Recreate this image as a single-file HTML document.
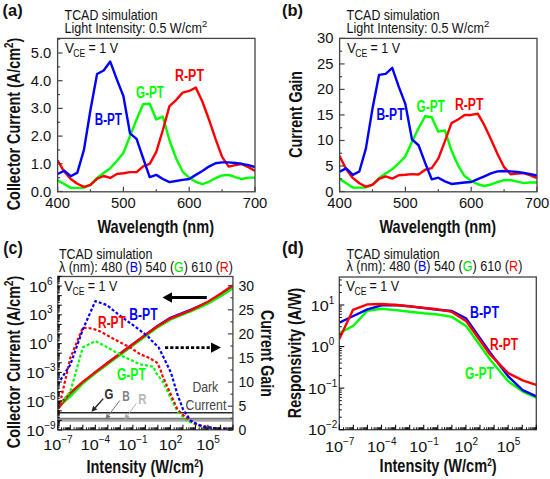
<!DOCTYPE html>
<html><head><meta charset="utf-8"><style>
html,body{margin:0;padding:0;background:#fff;}
svg{display:block;}
text{font-family:"Liberation Sans", sans-serif;}
</style></head><body>
<svg width="550" height="479" viewBox="0 0 550 479">
<rect width="550" height="479" fill="#fff"/>
<clipPath id="clip0"><rect x="57.6" y="38.4" width="197.4" height="153.4"/></clipPath>
<g clip-path="url(#clip0)">
<polyline points="57.60,180.42 64.18,184.02 70.76,187.90 77.34,187.90 83.92,187.62 90.50,184.85 97.08,177.93 103.66,172.94 110.24,168.23 116.82,161.03 123.40,153.00 129.98,136.10 136.56,119.48 143.14,104.25 149.72,103.69 156.30,119.48 162.88,116.71 169.46,140.25 176.04,158.26 182.62,171.56 189.20,177.65 195.78,181.81 202.36,184.02 208.94,181.81 215.52,178.20 222.10,175.43 228.68,174.88 235.26,177.10 241.84,179.03 248.42,177.65 255.00,177.65" fill="none" stroke="#00ff00" stroke-width="2.4" stroke-linejoin="round"/>
<polyline points="57.60,160.48 64.18,171.56 70.76,179.03 77.34,183.74 83.92,186.79 90.50,184.85 97.08,178.76 103.66,175.99 110.24,177.93 116.82,174.05 123.40,173.22 129.98,172.11 136.56,172.11 143.14,166.29 149.72,163.80 156.30,151.89 162.88,130.01 169.46,106.18 176.04,100.09 182.62,92.61 189.20,90.95 195.78,87.62 202.36,101.48 208.94,119.48 215.52,138.87 222.10,156.88 228.68,166.57 235.26,165.19 241.84,164.08 248.42,167.12 255.00,171.00" fill="none" stroke="#ff0000" stroke-width="2.4" stroke-linejoin="round"/>
<polyline points="57.60,174.05 64.18,170.72 70.76,176.26 77.34,172.66 83.92,149.95 90.50,109.78 97.08,74.05 103.66,70.45 110.24,61.59 116.82,79.32 123.40,95.94 129.98,133.33 136.56,138.87 143.14,158.26 149.72,177.10 156.30,174.88 162.88,179.03 169.46,182.08 176.04,180.97 182.62,179.87 189.20,179.03 195.78,174.88 202.36,171.00 208.94,166.57 215.52,163.25 222.10,162.41 228.68,162.41 235.26,162.97 241.84,163.80 248.42,165.19 255.00,167.12" fill="none" stroke="#0000ff" stroke-width="2.4" stroke-linejoin="round"/>
</g>
<rect x="57.6" y="38.4" width="197.4" height="153.4" fill="none" stroke="#444" stroke-width="1.3"/>
<line x1="57.60" y1="191.80" x2="57.60" y2="186.80" stroke="#444" stroke-width="1.2"/>
<line x1="90.50" y1="191.80" x2="90.50" y2="189.30" stroke="#444" stroke-width="1.2"/>
<line x1="123.40" y1="191.80" x2="123.40" y2="186.80" stroke="#444" stroke-width="1.2"/>
<line x1="156.30" y1="191.80" x2="156.30" y2="189.30" stroke="#444" stroke-width="1.2"/>
<line x1="189.20" y1="191.80" x2="189.20" y2="186.80" stroke="#444" stroke-width="1.2"/>
<line x1="222.10" y1="191.80" x2="222.10" y2="189.30" stroke="#444" stroke-width="1.2"/>
<line x1="255.00" y1="191.80" x2="255.00" y2="186.80" stroke="#444" stroke-width="1.2"/>
<text x="57.60" y="208.40" font-size="15" font-weight="normal" fill="#111" text-anchor="middle" textLength="24.60" lengthAdjust="spacingAndGlyphs">400</text>
<text x="123.40" y="208.40" font-size="15" font-weight="normal" fill="#111" text-anchor="middle" textLength="24.60" lengthAdjust="spacingAndGlyphs">500</text>
<text x="189.20" y="208.40" font-size="15" font-weight="normal" fill="#111" text-anchor="middle" textLength="24.60" lengthAdjust="spacingAndGlyphs">600</text>
<text x="255.00" y="208.40" font-size="15" font-weight="normal" fill="#111" text-anchor="middle" textLength="24.60" lengthAdjust="spacingAndGlyphs">700</text>
<line x1="57.60" y1="191.50" x2="62.60" y2="191.50" stroke="#444" stroke-width="1.2"/>
<line x1="57.60" y1="177.65" x2="60.10" y2="177.65" stroke="#444" stroke-width="1.2"/>
<line x1="57.60" y1="163.80" x2="62.60" y2="163.80" stroke="#444" stroke-width="1.2"/>
<line x1="57.60" y1="149.95" x2="60.10" y2="149.95" stroke="#444" stroke-width="1.2"/>
<line x1="57.60" y1="136.10" x2="62.60" y2="136.10" stroke="#444" stroke-width="1.2"/>
<line x1="57.60" y1="122.25" x2="60.10" y2="122.25" stroke="#444" stroke-width="1.2"/>
<line x1="57.60" y1="108.40" x2="62.60" y2="108.40" stroke="#444" stroke-width="1.2"/>
<line x1="57.60" y1="94.55" x2="60.10" y2="94.55" stroke="#444" stroke-width="1.2"/>
<line x1="57.60" y1="80.70" x2="62.60" y2="80.70" stroke="#444" stroke-width="1.2"/>
<line x1="57.60" y1="66.85" x2="60.10" y2="66.85" stroke="#444" stroke-width="1.2"/>
<line x1="57.60" y1="53.00" x2="62.60" y2="53.00" stroke="#444" stroke-width="1.2"/>
<line x1="57.60" y1="39.15" x2="60.10" y2="39.15" stroke="#444" stroke-width="1.2"/>
<text x="51.30" y="196.50" font-size="15" font-weight="normal" fill="#111" text-anchor="end" textLength="20.50" lengthAdjust="spacingAndGlyphs">0.0</text>
<text x="51.30" y="168.80" font-size="15" font-weight="normal" fill="#111" text-anchor="end" textLength="20.50" lengthAdjust="spacingAndGlyphs">1.0</text>
<text x="51.30" y="141.10" font-size="15" font-weight="normal" fill="#111" text-anchor="end" textLength="20.50" lengthAdjust="spacingAndGlyphs">2.0</text>
<text x="51.30" y="113.40" font-size="15" font-weight="normal" fill="#111" text-anchor="end" textLength="20.50" lengthAdjust="spacingAndGlyphs">3.0</text>
<text x="51.30" y="85.70" font-size="15" font-weight="normal" fill="#111" text-anchor="end" textLength="20.50" lengthAdjust="spacingAndGlyphs">4.0</text>
<text x="51.30" y="58.00" font-size="15" font-weight="normal" fill="#111" text-anchor="end" textLength="20.50" lengthAdjust="spacingAndGlyphs">5.0</text>
<text x="64.60" y="19.60" font-size="14.5" font-weight="normal" fill="#111" text-anchor="start" textLength="93.00" lengthAdjust="spacingAndGlyphs">TCAD simulation</text>
<text x="64.60" y="33.00" font-size="14.5" font-weight="normal" fill="#111" text-anchor="start" textLength="137.30" lengthAdjust="spacingAndGlyphs">Light Intensity: 0.5 W/cm</text>
<text x="202.00" y="27.00" font-size="9.5" font-weight="normal" fill="#111" text-anchor="start">2</text>
<text x="64.90" y="53.30" font-size="14.5" font-weight="normal" fill="#111" text-anchor="start" textLength="9.00" lengthAdjust="spacingAndGlyphs">V</text>
<text x="73.30" y="57.30" font-size="10.5" font-weight="normal" fill="#111" text-anchor="start" textLength="12.00" lengthAdjust="spacingAndGlyphs">CE</text>
<text x="88.50" y="53.30" font-size="14.5" font-weight="normal" fill="#111" text-anchor="start" textLength="29.50" lengthAdjust="spacingAndGlyphs">= 1 V</text>
<text x="97.40" y="233.20" font-size="18.5" font-weight="bold" fill="#111" text-anchor="start" textLength="116.60" lengthAdjust="spacingAndGlyphs">Wavelength (nm)</text>
<text x="20.5" y="210.3" font-size="18.5" font-weight="bold" fill="#111" transform="rotate(-90 20.5 210.3)" textLength="172.5" lengthAdjust="spacingAndGlyphs">Collector Current (A/cm<tspan dy="-7" font-size="12.5">2</tspan><tspan dy="7">)</tspan></text>
<text x="94.70" y="124.90" font-size="16" font-weight="bold" fill="#0000ff" text-anchor="start" textLength="27.30" lengthAdjust="spacingAndGlyphs">B-PT</text>
<text x="136.10" y="97.60" font-size="16" font-weight="bold" fill="#00ff00" text-anchor="start" textLength="27.90" lengthAdjust="spacingAndGlyphs">G-PT</text>
<text x="175.00" y="81.40" font-size="16" font-weight="bold" fill="#ff0000" text-anchor="start" textLength="29.00" lengthAdjust="spacingAndGlyphs">R-PT</text>
<clipPath id="clip282"><rect x="339.6" y="38.4" width="197.39999999999998" height="153.4"/></clipPath>
<g clip-path="url(#clip282)">
<polyline points="339.60,178.84 346.18,183.17 352.76,187.58 359.34,187.67 365.92,187.47 372.50,184.75 379.08,178.02 385.66,173.46 392.24,169.35 398.82,163.09 405.40,156.32 411.98,141.87 418.56,128.22 425.14,116.28 431.72,117.20 438.30,131.67 444.88,130.48 451.46,150.42 458.04,165.31 464.62,176.06 471.20,180.95 477.78,184.24 484.36,185.99 490.94,184.47 497.52,182.01 504.10,180.21 510.68,179.99 517.26,181.68 523.84,183.12 530.42,182.33 537.00,182.46" fill="none" stroke="#00ff00" stroke-width="2.4" stroke-linejoin="round"/>
<polyline points="339.60,156.06 346.18,169.27 352.76,177.94 359.34,183.26 365.92,186.61 372.50,184.75 379.08,178.84 385.66,176.42 392.24,178.58 398.82,175.23 405.40,174.79 411.98,174.13 418.56,174.46 425.14,169.77 431.72,168.06 438.30,158.59 444.88,141.33 451.46,123.11 458.04,119.49 464.62,114.92 471.20,114.93 477.78,113.70 484.36,125.16 490.94,139.27 497.52,153.93 504.10,167.16 510.68,174.24 517.26,173.55 523.84,173.07 530.42,175.36 537.00,178.12" fill="none" stroke="#ff0000" stroke-width="2.4" stroke-linejoin="round"/>
<polyline points="339.60,171.57 346.18,168.35 352.76,174.93 359.34,171.49 365.92,148.35 372.50,108.53 379.08,74.84 385.66,73.82 392.24,67.84 398.82,86.89 405.40,104.17 411.98,139.39 418.56,145.26 425.14,162.84 431.72,179.31 438.30,177.69 444.88,181.33 451.46,183.95 458.04,183.21 464.62,182.49 471.20,182.01 477.78,179.05 484.36,176.39 490.94,173.42 497.52,171.33 504.10,171.06 510.68,171.37 517.26,172.04 523.84,172.89 530.42,174.07 537.00,175.59" fill="none" stroke="#0000ff" stroke-width="2.4" stroke-linejoin="round"/>
</g>
<rect x="339.6" y="38.4" width="197.39999999999998" height="153.4" fill="none" stroke="#444" stroke-width="1.3"/>
<line x1="339.60" y1="191.80" x2="339.60" y2="186.80" stroke="#444" stroke-width="1.2"/>
<line x1="372.50" y1="191.80" x2="372.50" y2="189.30" stroke="#444" stroke-width="1.2"/>
<line x1="405.40" y1="191.80" x2="405.40" y2="186.80" stroke="#444" stroke-width="1.2"/>
<line x1="438.30" y1="191.80" x2="438.30" y2="189.30" stroke="#444" stroke-width="1.2"/>
<line x1="471.20" y1="191.80" x2="471.20" y2="186.80" stroke="#444" stroke-width="1.2"/>
<line x1="504.10" y1="191.80" x2="504.10" y2="189.30" stroke="#444" stroke-width="1.2"/>
<line x1="537.00" y1="191.80" x2="537.00" y2="186.80" stroke="#444" stroke-width="1.2"/>
<text x="339.60" y="208.40" font-size="15" font-weight="normal" fill="#111" text-anchor="middle" textLength="24.60" lengthAdjust="spacingAndGlyphs">400</text>
<text x="405.40" y="208.40" font-size="15" font-weight="normal" fill="#111" text-anchor="middle" textLength="24.60" lengthAdjust="spacingAndGlyphs">500</text>
<text x="471.20" y="208.40" font-size="15" font-weight="normal" fill="#111" text-anchor="middle" textLength="24.60" lengthAdjust="spacingAndGlyphs">600</text>
<text x="537.00" y="208.40" font-size="15" font-weight="normal" fill="#111" text-anchor="middle" textLength="24.60" lengthAdjust="spacingAndGlyphs">700</text>
<line x1="339.60" y1="191.50" x2="344.60" y2="191.50" stroke="#444" stroke-width="1.2"/>
<line x1="339.60" y1="178.74" x2="342.10" y2="178.74" stroke="#444" stroke-width="1.2"/>
<line x1="339.60" y1="165.98" x2="344.60" y2="165.98" stroke="#444" stroke-width="1.2"/>
<line x1="339.60" y1="153.22" x2="342.10" y2="153.22" stroke="#444" stroke-width="1.2"/>
<line x1="339.60" y1="140.47" x2="344.60" y2="140.47" stroke="#444" stroke-width="1.2"/>
<line x1="339.60" y1="127.71" x2="342.10" y2="127.71" stroke="#444" stroke-width="1.2"/>
<line x1="339.60" y1="114.95" x2="344.60" y2="114.95" stroke="#444" stroke-width="1.2"/>
<line x1="339.60" y1="102.19" x2="342.10" y2="102.19" stroke="#444" stroke-width="1.2"/>
<line x1="339.60" y1="89.43" x2="344.60" y2="89.43" stroke="#444" stroke-width="1.2"/>
<line x1="339.60" y1="76.67" x2="342.10" y2="76.67" stroke="#444" stroke-width="1.2"/>
<line x1="339.60" y1="63.92" x2="344.60" y2="63.92" stroke="#444" stroke-width="1.2"/>
<line x1="339.60" y1="51.16" x2="342.10" y2="51.16" stroke="#444" stroke-width="1.2"/>
<line x1="339.60" y1="38.40" x2="344.60" y2="38.40" stroke="#444" stroke-width="1.2"/>
<text x="333.40" y="196.50" font-size="15" font-weight="normal" fill="#111" text-anchor="end" textLength="8.20" lengthAdjust="spacingAndGlyphs">0</text>
<text x="333.40" y="170.98" font-size="15" font-weight="normal" fill="#111" text-anchor="end" textLength="8.20" lengthAdjust="spacingAndGlyphs">5</text>
<text x="333.40" y="145.47" font-size="15" font-weight="normal" fill="#111" text-anchor="end" textLength="16.40" lengthAdjust="spacingAndGlyphs">10</text>
<text x="333.40" y="119.95" font-size="15" font-weight="normal" fill="#111" text-anchor="end" textLength="16.40" lengthAdjust="spacingAndGlyphs">15</text>
<text x="333.40" y="94.43" font-size="15" font-weight="normal" fill="#111" text-anchor="end" textLength="16.40" lengthAdjust="spacingAndGlyphs">20</text>
<text x="333.40" y="68.92" font-size="15" font-weight="normal" fill="#111" text-anchor="end" textLength="16.40" lengthAdjust="spacingAndGlyphs">25</text>
<text x="333.40" y="43.40" font-size="15" font-weight="normal" fill="#111" text-anchor="end" textLength="16.40" lengthAdjust="spacingAndGlyphs">30</text>
<text x="346.60" y="19.60" font-size="14.5" font-weight="normal" fill="#111" text-anchor="start" textLength="93.00" lengthAdjust="spacingAndGlyphs">TCAD simulation</text>
<text x="346.60" y="33.00" font-size="14.5" font-weight="normal" fill="#111" text-anchor="start" textLength="137.30" lengthAdjust="spacingAndGlyphs">Light Intensity: 0.5 W/cm</text>
<text x="484.00" y="27.00" font-size="9.5" font-weight="normal" fill="#111" text-anchor="start">2</text>
<text x="346.90" y="53.30" font-size="14.5" font-weight="normal" fill="#111" text-anchor="start" textLength="9.00" lengthAdjust="spacingAndGlyphs">V</text>
<text x="355.30" y="57.30" font-size="10.5" font-weight="normal" fill="#111" text-anchor="start" textLength="12.00" lengthAdjust="spacingAndGlyphs">CE</text>
<text x="370.50" y="53.30" font-size="14.5" font-weight="normal" fill="#111" text-anchor="start" textLength="29.50" lengthAdjust="spacingAndGlyphs">= 1 V</text>
<text x="379.40" y="233.20" font-size="18.5" font-weight="bold" fill="#111" text-anchor="start" textLength="116.60" lengthAdjust="spacingAndGlyphs">Wavelength (nm)</text>
<text x="302.30" y="157.80" font-size="18.5" font-weight="bold" fill="#111" text-anchor="start" textLength="86.80" lengthAdjust="spacingAndGlyphs" transform="rotate(-90 302.30 157.80)">Current Gain</text>
<text x="376.40" y="119.50" font-size="16" font-weight="bold" fill="#0000ff" text-anchor="start" textLength="28.10" lengthAdjust="spacingAndGlyphs">B-PT</text>
<text x="416.40" y="112.30" font-size="16" font-weight="bold" fill="#00ff00" text-anchor="start" textLength="28.50" lengthAdjust="spacingAndGlyphs">G-PT</text>
<text x="454.90" y="110.00" font-size="16" font-weight="bold" fill="#ff0000" text-anchor="start" textLength="28.70" lengthAdjust="spacingAndGlyphs">R-PT</text>
<text x="2.60" y="15.80" font-size="17" font-weight="bold" fill="#111" text-anchor="start" textLength="20.00" lengthAdjust="spacingAndGlyphs">(a)</text>
<text x="282.00" y="15.80" font-size="17" font-weight="bold" fill="#111" text-anchor="start" textLength="21.00" lengthAdjust="spacingAndGlyphs">(b)</text>
<clipPath id="clipc"><rect x="57.8" y="276.5" width="175.10000000000002" height="153.3"/></clipPath>
<line x1="57.80" y1="412.80" x2="232.90" y2="412.80" stroke="#2a2a2a" stroke-width="1.5"/>
<line x1="57.80" y1="418.80" x2="232.90" y2="418.80" stroke="#777" stroke-width="2"/>
<line x1="57.80" y1="420.80" x2="232.90" y2="420.80" stroke="#aaa" stroke-width="2"/>
<g clip-path="url(#clipc)">
<polyline points="57.80,405.31 70.31,394.14 82.82,383.02 95.33,372.50 107.84,362.80 120.35,353.53 132.86,344.29 145.37,335.08 157.88,325.78 170.39,317.87 191.78,309.36 207.92,302.46 220.81,295.79 232.94,287.92" fill="none" stroke="#0000ff" stroke-width="2.4" stroke-linejoin="round"/>
<polyline points="57.80,407.73 70.31,396.40 82.82,383.32 95.33,373.27 107.84,363.98 120.35,354.76 132.86,345.52 145.37,336.19 157.88,327.15 170.77,319.43 191.78,310.96 207.92,303.62 221.31,295.79 232.94,288.21" fill="none" stroke="#00ff00" stroke-width="2.4" stroke-linejoin="round"/>
<polyline points="57.80,409.02 69.93,393.04 82.82,381.87 95.33,372.17 107.84,362.80 120.35,353.48 132.86,344.25 145.37,335.00 157.88,325.99 170.77,318.28 191.78,309.81 207.92,301.74 221.31,293.20 232.94,285.23" fill="none" stroke="#ff0000" stroke-width="2.4" stroke-linejoin="round"/>
<polyline points="57.80,406.68 70.31,391.74 82.82,347.40 95.33,341.13 106.71,346.91 123.35,356.55 139.99,364.27 153.50,366.68 156.00,372.94 162.51,381.14 170.01,396.56 177.52,411.50 186.90,420.66 201.92,426.93 214.18,428.61 232.94,429.34" fill="none" stroke="#00ff00" stroke-width="2.2" stroke-linejoin="round" stroke-dasharray="3 2"/>
<polyline points="57.80,412.95 70.31,358.00 82.82,327.63 92.83,328.60 100.33,331.49 113.34,338.72 131.73,348.36 139.99,354.14 148.37,357.52 156.75,362.34 160.13,368.60 162.51,375.83 169.14,390.78 177.52,409.57 185.03,416.80 196.29,424.52 215.18,428.37 232.94,429.10" fill="none" stroke="#ff0000" stroke-width="2.2" stroke-linejoin="round" stroke-dasharray="3 2"/>
<polyline points="57.80,384.03 70.31,364.75 82.82,329.56 95.33,301.12 106.71,304.98 119.22,315.10 135.11,326.67 148.37,336.79 151.25,340.17 158.63,347.40 164.39,358.96 171.02,372.94 177.52,394.63 183.15,409.57 190.66,420.66 201.92,426.44 215.18,428.37 232.94,429.10" fill="none" stroke="#0000ff" stroke-width="2.2" stroke-linejoin="round" stroke-dasharray="3 2"/>
</g>
<rect x="57.8" y="276.5" width="175.10000000000002" height="153.3" fill="none" stroke="#444" stroke-width="1.3"/>
<line x1="57.80" y1="429.80" x2="57.80" y2="424.80" stroke="#111" stroke-width="1.1"/>
<line x1="61.57" y1="429.80" x2="61.57" y2="427.30" stroke="#111" stroke-width="1.0"/>
<line x1="63.77" y1="429.80" x2="63.77" y2="427.30" stroke="#111" stroke-width="1.0"/>
<line x1="65.33" y1="429.80" x2="65.33" y2="427.30" stroke="#111" stroke-width="1.0"/>
<line x1="66.54" y1="429.80" x2="66.54" y2="427.30" stroke="#111" stroke-width="1.0"/>
<line x1="67.53" y1="429.80" x2="67.53" y2="427.30" stroke="#111" stroke-width="1.0"/>
<line x1="68.37" y1="429.80" x2="68.37" y2="427.30" stroke="#111" stroke-width="1.0"/>
<line x1="69.10" y1="429.80" x2="69.10" y2="427.30" stroke="#111" stroke-width="1.0"/>
<line x1="69.74" y1="429.80" x2="69.74" y2="427.30" stroke="#111" stroke-width="1.0"/>
<line x1="70.31" y1="429.80" x2="70.31" y2="424.80" stroke="#111" stroke-width="1.1"/>
<line x1="74.08" y1="429.80" x2="74.08" y2="427.30" stroke="#111" stroke-width="1.0"/>
<line x1="76.28" y1="429.80" x2="76.28" y2="427.30" stroke="#111" stroke-width="1.0"/>
<line x1="77.84" y1="429.80" x2="77.84" y2="427.30" stroke="#111" stroke-width="1.0"/>
<line x1="79.05" y1="429.80" x2="79.05" y2="427.30" stroke="#111" stroke-width="1.0"/>
<line x1="80.04" y1="429.80" x2="80.04" y2="427.30" stroke="#111" stroke-width="1.0"/>
<line x1="80.88" y1="429.80" x2="80.88" y2="427.30" stroke="#111" stroke-width="1.0"/>
<line x1="81.61" y1="429.80" x2="81.61" y2="427.30" stroke="#111" stroke-width="1.0"/>
<line x1="82.25" y1="429.80" x2="82.25" y2="427.30" stroke="#111" stroke-width="1.0"/>
<line x1="82.82" y1="429.80" x2="82.82" y2="424.80" stroke="#111" stroke-width="1.1"/>
<line x1="86.59" y1="429.80" x2="86.59" y2="427.30" stroke="#111" stroke-width="1.0"/>
<line x1="88.79" y1="429.80" x2="88.79" y2="427.30" stroke="#111" stroke-width="1.0"/>
<line x1="90.35" y1="429.80" x2="90.35" y2="427.30" stroke="#111" stroke-width="1.0"/>
<line x1="91.56" y1="429.80" x2="91.56" y2="427.30" stroke="#111" stroke-width="1.0"/>
<line x1="92.55" y1="429.80" x2="92.55" y2="427.30" stroke="#111" stroke-width="1.0"/>
<line x1="93.39" y1="429.80" x2="93.39" y2="427.30" stroke="#111" stroke-width="1.0"/>
<line x1="94.12" y1="429.80" x2="94.12" y2="427.30" stroke="#111" stroke-width="1.0"/>
<line x1="94.76" y1="429.80" x2="94.76" y2="427.30" stroke="#111" stroke-width="1.0"/>
<line x1="95.33" y1="429.80" x2="95.33" y2="424.80" stroke="#111" stroke-width="1.1"/>
<line x1="99.10" y1="429.80" x2="99.10" y2="427.30" stroke="#111" stroke-width="1.0"/>
<line x1="101.30" y1="429.80" x2="101.30" y2="427.30" stroke="#111" stroke-width="1.0"/>
<line x1="102.86" y1="429.80" x2="102.86" y2="427.30" stroke="#111" stroke-width="1.0"/>
<line x1="104.07" y1="429.80" x2="104.07" y2="427.30" stroke="#111" stroke-width="1.0"/>
<line x1="105.06" y1="429.80" x2="105.06" y2="427.30" stroke="#111" stroke-width="1.0"/>
<line x1="105.90" y1="429.80" x2="105.90" y2="427.30" stroke="#111" stroke-width="1.0"/>
<line x1="106.63" y1="429.80" x2="106.63" y2="427.30" stroke="#111" stroke-width="1.0"/>
<line x1="107.27" y1="429.80" x2="107.27" y2="427.30" stroke="#111" stroke-width="1.0"/>
<line x1="107.84" y1="429.80" x2="107.84" y2="424.80" stroke="#111" stroke-width="1.1"/>
<line x1="111.61" y1="429.80" x2="111.61" y2="427.30" stroke="#111" stroke-width="1.0"/>
<line x1="113.81" y1="429.80" x2="113.81" y2="427.30" stroke="#111" stroke-width="1.0"/>
<line x1="115.37" y1="429.80" x2="115.37" y2="427.30" stroke="#111" stroke-width="1.0"/>
<line x1="116.58" y1="429.80" x2="116.58" y2="427.30" stroke="#111" stroke-width="1.0"/>
<line x1="117.57" y1="429.80" x2="117.57" y2="427.30" stroke="#111" stroke-width="1.0"/>
<line x1="118.41" y1="429.80" x2="118.41" y2="427.30" stroke="#111" stroke-width="1.0"/>
<line x1="119.14" y1="429.80" x2="119.14" y2="427.30" stroke="#111" stroke-width="1.0"/>
<line x1="119.78" y1="429.80" x2="119.78" y2="427.30" stroke="#111" stroke-width="1.0"/>
<line x1="120.35" y1="429.80" x2="120.35" y2="424.80" stroke="#111" stroke-width="1.1"/>
<line x1="124.12" y1="429.80" x2="124.12" y2="427.30" stroke="#111" stroke-width="1.0"/>
<line x1="126.32" y1="429.80" x2="126.32" y2="427.30" stroke="#111" stroke-width="1.0"/>
<line x1="127.88" y1="429.80" x2="127.88" y2="427.30" stroke="#111" stroke-width="1.0"/>
<line x1="129.09" y1="429.80" x2="129.09" y2="427.30" stroke="#111" stroke-width="1.0"/>
<line x1="130.08" y1="429.80" x2="130.08" y2="427.30" stroke="#111" stroke-width="1.0"/>
<line x1="130.92" y1="429.80" x2="130.92" y2="427.30" stroke="#111" stroke-width="1.0"/>
<line x1="131.65" y1="429.80" x2="131.65" y2="427.30" stroke="#111" stroke-width="1.0"/>
<line x1="132.29" y1="429.80" x2="132.29" y2="427.30" stroke="#111" stroke-width="1.0"/>
<line x1="132.86" y1="429.80" x2="132.86" y2="424.80" stroke="#111" stroke-width="1.1"/>
<line x1="136.63" y1="429.80" x2="136.63" y2="427.30" stroke="#111" stroke-width="1.0"/>
<line x1="138.83" y1="429.80" x2="138.83" y2="427.30" stroke="#111" stroke-width="1.0"/>
<line x1="140.39" y1="429.80" x2="140.39" y2="427.30" stroke="#111" stroke-width="1.0"/>
<line x1="141.60" y1="429.80" x2="141.60" y2="427.30" stroke="#111" stroke-width="1.0"/>
<line x1="142.59" y1="429.80" x2="142.59" y2="427.30" stroke="#111" stroke-width="1.0"/>
<line x1="143.43" y1="429.80" x2="143.43" y2="427.30" stroke="#111" stroke-width="1.0"/>
<line x1="144.16" y1="429.80" x2="144.16" y2="427.30" stroke="#111" stroke-width="1.0"/>
<line x1="144.80" y1="429.80" x2="144.80" y2="427.30" stroke="#111" stroke-width="1.0"/>
<line x1="145.37" y1="429.80" x2="145.37" y2="424.80" stroke="#111" stroke-width="1.1"/>
<line x1="149.14" y1="429.80" x2="149.14" y2="427.30" stroke="#111" stroke-width="1.0"/>
<line x1="151.34" y1="429.80" x2="151.34" y2="427.30" stroke="#111" stroke-width="1.0"/>
<line x1="152.90" y1="429.80" x2="152.90" y2="427.30" stroke="#111" stroke-width="1.0"/>
<line x1="154.11" y1="429.80" x2="154.11" y2="427.30" stroke="#111" stroke-width="1.0"/>
<line x1="155.10" y1="429.80" x2="155.10" y2="427.30" stroke="#111" stroke-width="1.0"/>
<line x1="155.94" y1="429.80" x2="155.94" y2="427.30" stroke="#111" stroke-width="1.0"/>
<line x1="156.67" y1="429.80" x2="156.67" y2="427.30" stroke="#111" stroke-width="1.0"/>
<line x1="157.31" y1="429.80" x2="157.31" y2="427.30" stroke="#111" stroke-width="1.0"/>
<line x1="157.88" y1="429.80" x2="157.88" y2="424.80" stroke="#111" stroke-width="1.1"/>
<line x1="161.65" y1="429.80" x2="161.65" y2="427.30" stroke="#111" stroke-width="1.0"/>
<line x1="163.85" y1="429.80" x2="163.85" y2="427.30" stroke="#111" stroke-width="1.0"/>
<line x1="165.41" y1="429.80" x2="165.41" y2="427.30" stroke="#111" stroke-width="1.0"/>
<line x1="166.62" y1="429.80" x2="166.62" y2="427.30" stroke="#111" stroke-width="1.0"/>
<line x1="167.61" y1="429.80" x2="167.61" y2="427.30" stroke="#111" stroke-width="1.0"/>
<line x1="168.45" y1="429.80" x2="168.45" y2="427.30" stroke="#111" stroke-width="1.0"/>
<line x1="169.18" y1="429.80" x2="169.18" y2="427.30" stroke="#111" stroke-width="1.0"/>
<line x1="169.82" y1="429.80" x2="169.82" y2="427.30" stroke="#111" stroke-width="1.0"/>
<line x1="170.39" y1="429.80" x2="170.39" y2="424.80" stroke="#111" stroke-width="1.1"/>
<line x1="174.16" y1="429.80" x2="174.16" y2="427.30" stroke="#111" stroke-width="1.0"/>
<line x1="176.36" y1="429.80" x2="176.36" y2="427.30" stroke="#111" stroke-width="1.0"/>
<line x1="177.92" y1="429.80" x2="177.92" y2="427.30" stroke="#111" stroke-width="1.0"/>
<line x1="179.13" y1="429.80" x2="179.13" y2="427.30" stroke="#111" stroke-width="1.0"/>
<line x1="180.12" y1="429.80" x2="180.12" y2="427.30" stroke="#111" stroke-width="1.0"/>
<line x1="180.96" y1="429.80" x2="180.96" y2="427.30" stroke="#111" stroke-width="1.0"/>
<line x1="181.69" y1="429.80" x2="181.69" y2="427.30" stroke="#111" stroke-width="1.0"/>
<line x1="182.33" y1="429.80" x2="182.33" y2="427.30" stroke="#111" stroke-width="1.0"/>
<line x1="182.90" y1="429.80" x2="182.90" y2="424.80" stroke="#111" stroke-width="1.1"/>
<line x1="186.67" y1="429.80" x2="186.67" y2="427.30" stroke="#111" stroke-width="1.0"/>
<line x1="188.87" y1="429.80" x2="188.87" y2="427.30" stroke="#111" stroke-width="1.0"/>
<line x1="190.43" y1="429.80" x2="190.43" y2="427.30" stroke="#111" stroke-width="1.0"/>
<line x1="191.64" y1="429.80" x2="191.64" y2="427.30" stroke="#111" stroke-width="1.0"/>
<line x1="192.63" y1="429.80" x2="192.63" y2="427.30" stroke="#111" stroke-width="1.0"/>
<line x1="193.47" y1="429.80" x2="193.47" y2="427.30" stroke="#111" stroke-width="1.0"/>
<line x1="194.20" y1="429.80" x2="194.20" y2="427.30" stroke="#111" stroke-width="1.0"/>
<line x1="194.84" y1="429.80" x2="194.84" y2="427.30" stroke="#111" stroke-width="1.0"/>
<line x1="195.41" y1="429.80" x2="195.41" y2="424.80" stroke="#111" stroke-width="1.1"/>
<line x1="199.18" y1="429.80" x2="199.18" y2="427.30" stroke="#111" stroke-width="1.0"/>
<line x1="201.38" y1="429.80" x2="201.38" y2="427.30" stroke="#111" stroke-width="1.0"/>
<line x1="202.94" y1="429.80" x2="202.94" y2="427.30" stroke="#111" stroke-width="1.0"/>
<line x1="204.15" y1="429.80" x2="204.15" y2="427.30" stroke="#111" stroke-width="1.0"/>
<line x1="205.14" y1="429.80" x2="205.14" y2="427.30" stroke="#111" stroke-width="1.0"/>
<line x1="205.98" y1="429.80" x2="205.98" y2="427.30" stroke="#111" stroke-width="1.0"/>
<line x1="206.71" y1="429.80" x2="206.71" y2="427.30" stroke="#111" stroke-width="1.0"/>
<line x1="207.35" y1="429.80" x2="207.35" y2="427.30" stroke="#111" stroke-width="1.0"/>
<line x1="207.92" y1="429.80" x2="207.92" y2="424.80" stroke="#111" stroke-width="1.1"/>
<line x1="211.69" y1="429.80" x2="211.69" y2="427.30" stroke="#111" stroke-width="1.0"/>
<line x1="213.89" y1="429.80" x2="213.89" y2="427.30" stroke="#111" stroke-width="1.0"/>
<line x1="215.45" y1="429.80" x2="215.45" y2="427.30" stroke="#111" stroke-width="1.0"/>
<line x1="216.66" y1="429.80" x2="216.66" y2="427.30" stroke="#111" stroke-width="1.0"/>
<line x1="217.65" y1="429.80" x2="217.65" y2="427.30" stroke="#111" stroke-width="1.0"/>
<line x1="218.49" y1="429.80" x2="218.49" y2="427.30" stroke="#111" stroke-width="1.0"/>
<line x1="219.22" y1="429.80" x2="219.22" y2="427.30" stroke="#111" stroke-width="1.0"/>
<line x1="219.86" y1="429.80" x2="219.86" y2="427.30" stroke="#111" stroke-width="1.0"/>
<line x1="220.43" y1="429.80" x2="220.43" y2="424.80" stroke="#111" stroke-width="1.1"/>
<line x1="224.20" y1="429.80" x2="224.20" y2="427.30" stroke="#111" stroke-width="1.0"/>
<line x1="226.40" y1="429.80" x2="226.40" y2="427.30" stroke="#111" stroke-width="1.0"/>
<line x1="227.96" y1="429.80" x2="227.96" y2="427.30" stroke="#111" stroke-width="1.0"/>
<line x1="229.17" y1="429.80" x2="229.17" y2="427.30" stroke="#111" stroke-width="1.0"/>
<line x1="230.16" y1="429.80" x2="230.16" y2="427.30" stroke="#111" stroke-width="1.0"/>
<line x1="231.00" y1="429.80" x2="231.00" y2="427.30" stroke="#111" stroke-width="1.0"/>
<line x1="231.73" y1="429.80" x2="231.73" y2="427.30" stroke="#111" stroke-width="1.0"/>
<line x1="232.37" y1="429.80" x2="232.37" y2="427.30" stroke="#111" stroke-width="1.0"/>
<line x1="232.94" y1="429.80" x2="232.94" y2="424.80" stroke="#111" stroke-width="1.1"/>
<line x1="57.80" y1="430.00" x2="61.80" y2="430.00" stroke="#111" stroke-width="1.1"/>
<line x1="57.80" y1="427.11" x2="59.80" y2="427.11" stroke="#111" stroke-width="1.0"/>
<line x1="57.80" y1="425.42" x2="59.80" y2="425.42" stroke="#111" stroke-width="1.0"/>
<line x1="57.80" y1="424.22" x2="59.80" y2="424.22" stroke="#111" stroke-width="1.0"/>
<line x1="57.80" y1="423.29" x2="59.80" y2="423.29" stroke="#111" stroke-width="1.0"/>
<line x1="57.80" y1="422.53" x2="59.80" y2="422.53" stroke="#111" stroke-width="1.0"/>
<line x1="57.80" y1="421.89" x2="59.80" y2="421.89" stroke="#111" stroke-width="1.0"/>
<line x1="57.80" y1="421.33" x2="59.80" y2="421.33" stroke="#111" stroke-width="1.0"/>
<line x1="57.80" y1="420.84" x2="59.80" y2="420.84" stroke="#111" stroke-width="1.0"/>
<line x1="57.80" y1="420.40" x2="61.80" y2="420.40" stroke="#111" stroke-width="1.1"/>
<line x1="57.80" y1="417.51" x2="59.80" y2="417.51" stroke="#111" stroke-width="1.0"/>
<line x1="57.80" y1="415.82" x2="59.80" y2="415.82" stroke="#111" stroke-width="1.0"/>
<line x1="57.80" y1="414.62" x2="59.80" y2="414.62" stroke="#111" stroke-width="1.0"/>
<line x1="57.80" y1="413.69" x2="59.80" y2="413.69" stroke="#111" stroke-width="1.0"/>
<line x1="57.80" y1="412.93" x2="59.80" y2="412.93" stroke="#111" stroke-width="1.0"/>
<line x1="57.80" y1="412.29" x2="59.80" y2="412.29" stroke="#111" stroke-width="1.0"/>
<line x1="57.80" y1="411.73" x2="59.80" y2="411.73" stroke="#111" stroke-width="1.0"/>
<line x1="57.80" y1="411.24" x2="59.80" y2="411.24" stroke="#111" stroke-width="1.0"/>
<line x1="57.80" y1="410.80" x2="61.80" y2="410.80" stroke="#111" stroke-width="1.1"/>
<line x1="57.80" y1="407.91" x2="59.80" y2="407.91" stroke="#111" stroke-width="1.0"/>
<line x1="57.80" y1="406.22" x2="59.80" y2="406.22" stroke="#111" stroke-width="1.0"/>
<line x1="57.80" y1="405.02" x2="59.80" y2="405.02" stroke="#111" stroke-width="1.0"/>
<line x1="57.80" y1="404.09" x2="59.80" y2="404.09" stroke="#111" stroke-width="1.0"/>
<line x1="57.80" y1="403.33" x2="59.80" y2="403.33" stroke="#111" stroke-width="1.0"/>
<line x1="57.80" y1="402.69" x2="59.80" y2="402.69" stroke="#111" stroke-width="1.0"/>
<line x1="57.80" y1="402.13" x2="59.80" y2="402.13" stroke="#111" stroke-width="1.0"/>
<line x1="57.80" y1="401.64" x2="59.80" y2="401.64" stroke="#111" stroke-width="1.0"/>
<line x1="57.80" y1="401.20" x2="61.80" y2="401.20" stroke="#111" stroke-width="1.1"/>
<line x1="57.80" y1="398.31" x2="59.80" y2="398.31" stroke="#111" stroke-width="1.0"/>
<line x1="57.80" y1="396.62" x2="59.80" y2="396.62" stroke="#111" stroke-width="1.0"/>
<line x1="57.80" y1="395.42" x2="59.80" y2="395.42" stroke="#111" stroke-width="1.0"/>
<line x1="57.80" y1="394.49" x2="59.80" y2="394.49" stroke="#111" stroke-width="1.0"/>
<line x1="57.80" y1="393.73" x2="59.80" y2="393.73" stroke="#111" stroke-width="1.0"/>
<line x1="57.80" y1="393.09" x2="59.80" y2="393.09" stroke="#111" stroke-width="1.0"/>
<line x1="57.80" y1="392.53" x2="59.80" y2="392.53" stroke="#111" stroke-width="1.0"/>
<line x1="57.80" y1="392.04" x2="59.80" y2="392.04" stroke="#111" stroke-width="1.0"/>
<line x1="57.80" y1="391.60" x2="61.80" y2="391.60" stroke="#111" stroke-width="1.1"/>
<line x1="57.80" y1="388.71" x2="59.80" y2="388.71" stroke="#111" stroke-width="1.0"/>
<line x1="57.80" y1="387.02" x2="59.80" y2="387.02" stroke="#111" stroke-width="1.0"/>
<line x1="57.80" y1="385.82" x2="59.80" y2="385.82" stroke="#111" stroke-width="1.0"/>
<line x1="57.80" y1="384.89" x2="59.80" y2="384.89" stroke="#111" stroke-width="1.0"/>
<line x1="57.80" y1="384.13" x2="59.80" y2="384.13" stroke="#111" stroke-width="1.0"/>
<line x1="57.80" y1="383.49" x2="59.80" y2="383.49" stroke="#111" stroke-width="1.0"/>
<line x1="57.80" y1="382.93" x2="59.80" y2="382.93" stroke="#111" stroke-width="1.0"/>
<line x1="57.80" y1="382.44" x2="59.80" y2="382.44" stroke="#111" stroke-width="1.0"/>
<line x1="57.80" y1="382.00" x2="61.80" y2="382.00" stroke="#111" stroke-width="1.1"/>
<line x1="57.80" y1="379.11" x2="59.80" y2="379.11" stroke="#111" stroke-width="1.0"/>
<line x1="57.80" y1="377.42" x2="59.80" y2="377.42" stroke="#111" stroke-width="1.0"/>
<line x1="57.80" y1="376.22" x2="59.80" y2="376.22" stroke="#111" stroke-width="1.0"/>
<line x1="57.80" y1="375.29" x2="59.80" y2="375.29" stroke="#111" stroke-width="1.0"/>
<line x1="57.80" y1="374.53" x2="59.80" y2="374.53" stroke="#111" stroke-width="1.0"/>
<line x1="57.80" y1="373.89" x2="59.80" y2="373.89" stroke="#111" stroke-width="1.0"/>
<line x1="57.80" y1="373.33" x2="59.80" y2="373.33" stroke="#111" stroke-width="1.0"/>
<line x1="57.80" y1="372.84" x2="59.80" y2="372.84" stroke="#111" stroke-width="1.0"/>
<line x1="57.80" y1="372.40" x2="61.80" y2="372.40" stroke="#111" stroke-width="1.1"/>
<line x1="57.80" y1="369.51" x2="59.80" y2="369.51" stroke="#111" stroke-width="1.0"/>
<line x1="57.80" y1="367.82" x2="59.80" y2="367.82" stroke="#111" stroke-width="1.0"/>
<line x1="57.80" y1="366.62" x2="59.80" y2="366.62" stroke="#111" stroke-width="1.0"/>
<line x1="57.80" y1="365.69" x2="59.80" y2="365.69" stroke="#111" stroke-width="1.0"/>
<line x1="57.80" y1="364.93" x2="59.80" y2="364.93" stroke="#111" stroke-width="1.0"/>
<line x1="57.80" y1="364.29" x2="59.80" y2="364.29" stroke="#111" stroke-width="1.0"/>
<line x1="57.80" y1="363.73" x2="59.80" y2="363.73" stroke="#111" stroke-width="1.0"/>
<line x1="57.80" y1="363.24" x2="59.80" y2="363.24" stroke="#111" stroke-width="1.0"/>
<line x1="57.80" y1="362.80" x2="61.80" y2="362.80" stroke="#111" stroke-width="1.1"/>
<line x1="57.80" y1="359.91" x2="59.80" y2="359.91" stroke="#111" stroke-width="1.0"/>
<line x1="57.80" y1="358.22" x2="59.80" y2="358.22" stroke="#111" stroke-width="1.0"/>
<line x1="57.80" y1="357.02" x2="59.80" y2="357.02" stroke="#111" stroke-width="1.0"/>
<line x1="57.80" y1="356.09" x2="59.80" y2="356.09" stroke="#111" stroke-width="1.0"/>
<line x1="57.80" y1="355.33" x2="59.80" y2="355.33" stroke="#111" stroke-width="1.0"/>
<line x1="57.80" y1="354.69" x2="59.80" y2="354.69" stroke="#111" stroke-width="1.0"/>
<line x1="57.80" y1="354.13" x2="59.80" y2="354.13" stroke="#111" stroke-width="1.0"/>
<line x1="57.80" y1="353.64" x2="59.80" y2="353.64" stroke="#111" stroke-width="1.0"/>
<line x1="57.80" y1="353.20" x2="61.80" y2="353.20" stroke="#111" stroke-width="1.1"/>
<line x1="57.80" y1="350.31" x2="59.80" y2="350.31" stroke="#111" stroke-width="1.0"/>
<line x1="57.80" y1="348.62" x2="59.80" y2="348.62" stroke="#111" stroke-width="1.0"/>
<line x1="57.80" y1="347.42" x2="59.80" y2="347.42" stroke="#111" stroke-width="1.0"/>
<line x1="57.80" y1="346.49" x2="59.80" y2="346.49" stroke="#111" stroke-width="1.0"/>
<line x1="57.80" y1="345.73" x2="59.80" y2="345.73" stroke="#111" stroke-width="1.0"/>
<line x1="57.80" y1="345.09" x2="59.80" y2="345.09" stroke="#111" stroke-width="1.0"/>
<line x1="57.80" y1="344.53" x2="59.80" y2="344.53" stroke="#111" stroke-width="1.0"/>
<line x1="57.80" y1="344.04" x2="59.80" y2="344.04" stroke="#111" stroke-width="1.0"/>
<line x1="57.80" y1="343.60" x2="61.80" y2="343.60" stroke="#111" stroke-width="1.1"/>
<line x1="57.80" y1="340.71" x2="59.80" y2="340.71" stroke="#111" stroke-width="1.0"/>
<line x1="57.80" y1="339.02" x2="59.80" y2="339.02" stroke="#111" stroke-width="1.0"/>
<line x1="57.80" y1="337.82" x2="59.80" y2="337.82" stroke="#111" stroke-width="1.0"/>
<line x1="57.80" y1="336.89" x2="59.80" y2="336.89" stroke="#111" stroke-width="1.0"/>
<line x1="57.80" y1="336.13" x2="59.80" y2="336.13" stroke="#111" stroke-width="1.0"/>
<line x1="57.80" y1="335.49" x2="59.80" y2="335.49" stroke="#111" stroke-width="1.0"/>
<line x1="57.80" y1="334.93" x2="59.80" y2="334.93" stroke="#111" stroke-width="1.0"/>
<line x1="57.80" y1="334.44" x2="59.80" y2="334.44" stroke="#111" stroke-width="1.0"/>
<line x1="57.80" y1="334.00" x2="61.80" y2="334.00" stroke="#111" stroke-width="1.1"/>
<line x1="57.80" y1="331.11" x2="59.80" y2="331.11" stroke="#111" stroke-width="1.0"/>
<line x1="57.80" y1="329.42" x2="59.80" y2="329.42" stroke="#111" stroke-width="1.0"/>
<line x1="57.80" y1="328.22" x2="59.80" y2="328.22" stroke="#111" stroke-width="1.0"/>
<line x1="57.80" y1="327.29" x2="59.80" y2="327.29" stroke="#111" stroke-width="1.0"/>
<line x1="57.80" y1="326.53" x2="59.80" y2="326.53" stroke="#111" stroke-width="1.0"/>
<line x1="57.80" y1="325.89" x2="59.80" y2="325.89" stroke="#111" stroke-width="1.0"/>
<line x1="57.80" y1="325.33" x2="59.80" y2="325.33" stroke="#111" stroke-width="1.0"/>
<line x1="57.80" y1="324.84" x2="59.80" y2="324.84" stroke="#111" stroke-width="1.0"/>
<line x1="57.80" y1="324.40" x2="61.80" y2="324.40" stroke="#111" stroke-width="1.1"/>
<line x1="57.80" y1="321.51" x2="59.80" y2="321.51" stroke="#111" stroke-width="1.0"/>
<line x1="57.80" y1="319.82" x2="59.80" y2="319.82" stroke="#111" stroke-width="1.0"/>
<line x1="57.80" y1="318.62" x2="59.80" y2="318.62" stroke="#111" stroke-width="1.0"/>
<line x1="57.80" y1="317.69" x2="59.80" y2="317.69" stroke="#111" stroke-width="1.0"/>
<line x1="57.80" y1="316.93" x2="59.80" y2="316.93" stroke="#111" stroke-width="1.0"/>
<line x1="57.80" y1="316.29" x2="59.80" y2="316.29" stroke="#111" stroke-width="1.0"/>
<line x1="57.80" y1="315.73" x2="59.80" y2="315.73" stroke="#111" stroke-width="1.0"/>
<line x1="57.80" y1="315.24" x2="59.80" y2="315.24" stroke="#111" stroke-width="1.0"/>
<line x1="57.80" y1="314.80" x2="61.80" y2="314.80" stroke="#111" stroke-width="1.1"/>
<line x1="57.80" y1="311.91" x2="59.80" y2="311.91" stroke="#111" stroke-width="1.0"/>
<line x1="57.80" y1="310.22" x2="59.80" y2="310.22" stroke="#111" stroke-width="1.0"/>
<line x1="57.80" y1="309.02" x2="59.80" y2="309.02" stroke="#111" stroke-width="1.0"/>
<line x1="57.80" y1="308.09" x2="59.80" y2="308.09" stroke="#111" stroke-width="1.0"/>
<line x1="57.80" y1="307.33" x2="59.80" y2="307.33" stroke="#111" stroke-width="1.0"/>
<line x1="57.80" y1="306.69" x2="59.80" y2="306.69" stroke="#111" stroke-width="1.0"/>
<line x1="57.80" y1="306.13" x2="59.80" y2="306.13" stroke="#111" stroke-width="1.0"/>
<line x1="57.80" y1="305.64" x2="59.80" y2="305.64" stroke="#111" stroke-width="1.0"/>
<line x1="57.80" y1="305.20" x2="61.80" y2="305.20" stroke="#111" stroke-width="1.1"/>
<line x1="57.80" y1="302.31" x2="59.80" y2="302.31" stroke="#111" stroke-width="1.0"/>
<line x1="57.80" y1="300.62" x2="59.80" y2="300.62" stroke="#111" stroke-width="1.0"/>
<line x1="57.80" y1="299.42" x2="59.80" y2="299.42" stroke="#111" stroke-width="1.0"/>
<line x1="57.80" y1="298.49" x2="59.80" y2="298.49" stroke="#111" stroke-width="1.0"/>
<line x1="57.80" y1="297.73" x2="59.80" y2="297.73" stroke="#111" stroke-width="1.0"/>
<line x1="57.80" y1="297.09" x2="59.80" y2="297.09" stroke="#111" stroke-width="1.0"/>
<line x1="57.80" y1="296.53" x2="59.80" y2="296.53" stroke="#111" stroke-width="1.0"/>
<line x1="57.80" y1="296.04" x2="59.80" y2="296.04" stroke="#111" stroke-width="1.0"/>
<line x1="57.80" y1="295.60" x2="61.80" y2="295.60" stroke="#111" stroke-width="1.1"/>
<line x1="57.80" y1="292.71" x2="59.80" y2="292.71" stroke="#111" stroke-width="1.0"/>
<line x1="57.80" y1="291.02" x2="59.80" y2="291.02" stroke="#111" stroke-width="1.0"/>
<line x1="57.80" y1="289.82" x2="59.80" y2="289.82" stroke="#111" stroke-width="1.0"/>
<line x1="57.80" y1="288.89" x2="59.80" y2="288.89" stroke="#111" stroke-width="1.0"/>
<line x1="57.80" y1="288.13" x2="59.80" y2="288.13" stroke="#111" stroke-width="1.0"/>
<line x1="57.80" y1="287.49" x2="59.80" y2="287.49" stroke="#111" stroke-width="1.0"/>
<line x1="57.80" y1="286.93" x2="59.80" y2="286.93" stroke="#111" stroke-width="1.0"/>
<line x1="57.80" y1="286.44" x2="59.80" y2="286.44" stroke="#111" stroke-width="1.0"/>
<line x1="57.80" y1="286.00" x2="61.80" y2="286.00" stroke="#111" stroke-width="1.1"/>
<line x1="57.80" y1="283.11" x2="59.80" y2="283.11" stroke="#111" stroke-width="1.0"/>
<line x1="57.80" y1="281.42" x2="59.80" y2="281.42" stroke="#111" stroke-width="1.0"/>
<line x1="57.80" y1="280.22" x2="59.80" y2="280.22" stroke="#111" stroke-width="1.0"/>
<line x1="57.80" y1="279.29" x2="59.80" y2="279.29" stroke="#111" stroke-width="1.0"/>
<line x1="57.80" y1="278.53" x2="59.80" y2="278.53" stroke="#111" stroke-width="1.0"/>
<line x1="57.80" y1="277.89" x2="59.80" y2="277.89" stroke="#111" stroke-width="1.0"/>
<line x1="57.80" y1="277.33" x2="59.80" y2="277.33" stroke="#111" stroke-width="1.0"/>
<line x1="57.80" y1="276.84" x2="59.80" y2="276.84" stroke="#111" stroke-width="1.0"/>
<line x1="57.80" y1="276.40" x2="61.80" y2="276.40" stroke="#111" stroke-width="1.1"/>
<line x1="232.90" y1="430.30" x2="227.90" y2="430.30" stroke="#444" stroke-width="1.2"/>
<line x1="232.90" y1="418.25" x2="230.40" y2="418.25" stroke="#444" stroke-width="1.2"/>
<line x1="232.90" y1="406.20" x2="227.90" y2="406.20" stroke="#444" stroke-width="1.2"/>
<line x1="232.90" y1="394.15" x2="230.40" y2="394.15" stroke="#444" stroke-width="1.2"/>
<line x1="232.90" y1="382.10" x2="227.90" y2="382.10" stroke="#444" stroke-width="1.2"/>
<line x1="232.90" y1="370.05" x2="230.40" y2="370.05" stroke="#444" stroke-width="1.2"/>
<line x1="232.90" y1="358.00" x2="227.90" y2="358.00" stroke="#444" stroke-width="1.2"/>
<line x1="232.90" y1="345.95" x2="230.40" y2="345.95" stroke="#444" stroke-width="1.2"/>
<line x1="232.90" y1="333.90" x2="227.90" y2="333.90" stroke="#444" stroke-width="1.2"/>
<line x1="232.90" y1="321.85" x2="230.40" y2="321.85" stroke="#444" stroke-width="1.2"/>
<line x1="232.90" y1="309.80" x2="227.90" y2="309.80" stroke="#444" stroke-width="1.2"/>
<line x1="232.90" y1="297.75" x2="230.40" y2="297.75" stroke="#444" stroke-width="1.2"/>
<line x1="232.90" y1="285.70" x2="227.90" y2="285.70" stroke="#444" stroke-width="1.2"/>
<text x="238.50" y="435.30" font-size="15" font-weight="normal" fill="#111" text-anchor="start" textLength="7.80" lengthAdjust="spacingAndGlyphs">0</text>
<text x="238.50" y="411.20" font-size="15" font-weight="normal" fill="#111" text-anchor="start" textLength="7.80" lengthAdjust="spacingAndGlyphs">5</text>
<text x="238.50" y="387.10" font-size="15" font-weight="normal" fill="#111" text-anchor="start" textLength="15.60" lengthAdjust="spacingAndGlyphs">10</text>
<text x="238.50" y="363.00" font-size="15" font-weight="normal" fill="#111" text-anchor="start" textLength="15.60" lengthAdjust="spacingAndGlyphs">15</text>
<text x="238.50" y="338.90" font-size="15" font-weight="normal" fill="#111" text-anchor="start" textLength="15.60" lengthAdjust="spacingAndGlyphs">20</text>
<text x="238.50" y="314.80" font-size="15" font-weight="normal" fill="#111" text-anchor="start" textLength="15.60" lengthAdjust="spacingAndGlyphs">25</text>
<text x="238.50" y="290.70" font-size="15" font-weight="normal" fill="#111" text-anchor="start" textLength="15.60" lengthAdjust="spacingAndGlyphs">30</text>
<text x="29.12" y="291.60" font-size="15.5" font-weight="normal" fill="#111" text-anchor="start" textLength="18.00" lengthAdjust="spacingAndGlyphs">10</text>
<text x="47.12" y="284.60" font-size="10" fill="#111">6</text>
<text x="29.12" y="320.40" font-size="15.5" font-weight="normal" fill="#111" text-anchor="start" textLength="18.00" lengthAdjust="spacingAndGlyphs">10</text>
<text x="47.12" y="313.40" font-size="10" fill="#111">3</text>
<text x="29.12" y="349.20" font-size="15.5" font-weight="normal" fill="#111" text-anchor="start" textLength="18.00" lengthAdjust="spacingAndGlyphs">10</text>
<text x="47.12" y="342.20" font-size="10" fill="#111">0</text>
<text x="26.20" y="378.00" font-size="15.5" font-weight="normal" fill="#111" text-anchor="start" textLength="18.00" lengthAdjust="spacingAndGlyphs">10</text>
<text x="44.20" y="371.00" font-size="10" fill="#111">−3</text>
<text x="26.20" y="406.80" font-size="15.5" font-weight="normal" fill="#111" text-anchor="start" textLength="18.00" lengthAdjust="spacingAndGlyphs">10</text>
<text x="44.20" y="399.80" font-size="10" fill="#111">−6</text>
<text x="26.20" y="435.60" font-size="15.5" font-weight="normal" fill="#111" text-anchor="start" textLength="18.00" lengthAdjust="spacingAndGlyphs">10</text>
<text x="44.20" y="428.60" font-size="10" fill="#111">−9</text>
<text x="43.20" y="450.30" font-size="15.5" font-weight="normal" fill="#111" text-anchor="start" textLength="18.00" lengthAdjust="spacingAndGlyphs">10</text>
<text x="61.20" y="443.30" font-size="10" fill="#111">−7</text>
<text x="80.73" y="450.30" font-size="15.5" font-weight="normal" fill="#111" text-anchor="start" textLength="18.00" lengthAdjust="spacingAndGlyphs">10</text>
<text x="98.73" y="443.30" font-size="10" fill="#111">−4</text>
<text x="118.26" y="450.30" font-size="15.5" font-weight="normal" fill="#111" text-anchor="start" textLength="18.00" lengthAdjust="spacingAndGlyphs">10</text>
<text x="136.26" y="443.30" font-size="10" fill="#111">−1</text>
<text x="158.71" y="450.30" font-size="15.5" font-weight="normal" fill="#111" text-anchor="start" textLength="18.00" lengthAdjust="spacingAndGlyphs">10</text>
<text x="176.71" y="443.30" font-size="10" fill="#111">2</text>
<text x="196.24" y="450.30" font-size="15.5" font-weight="normal" fill="#111" text-anchor="start" textLength="18.00" lengthAdjust="spacingAndGlyphs">10</text>
<text x="214.24" y="443.30" font-size="10" fill="#111">5</text>
<text x="58.90" y="259.00" font-size="14.5" font-weight="normal" fill="#111" text-anchor="start" textLength="93.60" lengthAdjust="spacingAndGlyphs">TCAD simulation</text>
<text x="59.0" y="271.6" font-size="14.5" fill="#111" textLength="174" lengthAdjust="spacingAndGlyphs">λ (nm): 480 (<tspan fill="#0000ff">B</tspan>) 540 (<tspan fill="#00dd00">G</tspan>) 610 (<tspan fill="#ff0000">R</tspan>)</text>
<text x="64.20" y="290.90" font-size="14.5" font-weight="normal" fill="#111" text-anchor="start" textLength="9.00" lengthAdjust="spacingAndGlyphs">V</text>
<text x="72.60" y="294.90" font-size="10.5" font-weight="normal" fill="#111" text-anchor="start" textLength="12.00" lengthAdjust="spacingAndGlyphs">CE</text>
<text x="87.80" y="290.90" font-size="14.5" font-weight="normal" fill="#111" text-anchor="start" textLength="29.50" lengthAdjust="spacingAndGlyphs">= 1 V</text>
<text x="3.30" y="254.30" font-size="17.5" font-weight="bold" fill="#111" text-anchor="start" textLength="19.40" lengthAdjust="spacingAndGlyphs">(c)</text>
<text x="19.9" y="448.2" font-size="18.5" font-weight="bold" fill="#111" transform="rotate(-90 19.9 448.2)" textLength="172.5" lengthAdjust="spacingAndGlyphs">Collector Current (A/cm<tspan dy="-7" font-size="12.5">2</tspan><tspan dy="7">)</tspan></text>
<text x="260.60" y="309.90" font-size="18.5" font-weight="bold" fill="#111" text-anchor="start" textLength="87.00" lengthAdjust="spacingAndGlyphs" transform="rotate(90 260.60 309.90)">Current Gain</text>
<text x="86.4" y="472.7" font-size="18.5" font-weight="bold" fill="#111" textLength="117.2" lengthAdjust="spacingAndGlyphs">Intensity (W/cm<tspan dy="-6" font-size="10.5">2</tspan><tspan dy="6">)</tspan></text>
<text x="129.20" y="319.70" font-size="16" font-weight="bold" fill="#0000ff" text-anchor="start" textLength="28.40" lengthAdjust="spacingAndGlyphs">B-PT</text>
<text x="98.00" y="328.40" font-size="16" font-weight="bold" fill="#ff0000" text-anchor="start" textLength="27.90" lengthAdjust="spacingAndGlyphs">R-PT</text>
<text x="116.90" y="379.50" font-size="16" font-weight="bold" fill="#00ff00" text-anchor="start" textLength="28.90" lengthAdjust="spacingAndGlyphs">G-PT</text>
<text x="104.50" y="398.90" font-size="14" font-weight="bold" fill="#2a2a2a" text-anchor="start" textLength="8.90" lengthAdjust="spacingAndGlyphs">G</text>
<text x="122.20" y="401.00" font-size="14" font-weight="bold" fill="#808080" text-anchor="start" textLength="7.50" lengthAdjust="spacingAndGlyphs">B</text>
<text x="138.20" y="403.90" font-size="14" font-weight="bold" fill="#b8b8b8" text-anchor="start" textLength="8.30" lengthAdjust="spacingAndGlyphs">R</text>
<text x="192.40" y="392.40" font-size="15" font-weight="normal" fill="#444" text-anchor="start" textLength="25.80" lengthAdjust="spacingAndGlyphs">Dark</text>
<text x="185.60" y="410.00" font-size="15" font-weight="normal" fill="#444" text-anchor="start" textLength="40.70" lengthAdjust="spacingAndGlyphs">Current</text>
<line x1="103.30" y1="398.60" x2="95.17" y2="407.70" stroke="#222" stroke-width="1.4"/>
<polygon points="91.50,411.80 93.08,405.83 97.25,409.57" fill="#222"/>
<line x1="119.90" y1="400.40" x2="108.71" y2="415.21" stroke="#777" stroke-width="1.0"/>
<polygon points="105.40,419.60 106.64,413.64 110.79,416.78" fill="#777"/>
<line x1="136.40" y1="403.30" x2="127.63" y2="415.35" stroke="#aaa" stroke-width="0.9"/>
<polygon points="124.40,419.80 125.53,413.82 129.74,416.88" fill="#aaa"/>
<line x1="206.80" y1="297.50" x2="172.00" y2="297.50" stroke="#000" stroke-width="2.8"/>
<polygon points="162.50,297.50 172.00,292.30 172.00,302.70" fill="#000"/>
<line x1="165.00" y1="347.60" x2="211.00" y2="347.60" stroke="#000" stroke-width="2.8" stroke-dasharray="3.2 2"/>
<polygon points="221.00,347.60 211.00,352.80 211.00,342.40" fill="#000"/>
<clipPath id="clipd"><rect x="339.3" y="277.0" width="196.99999999999994" height="152.7"/></clipPath>
<g clip-path="url(#clipd)">
<polyline points="339.30,333.26 353.37,325.77 367.44,310.69 381.51,308.77 395.59,310.10 409.66,311.72 423.73,313.30 437.80,314.47 451.87,316.88 466.36,326.27 490.00,359.45 508.16,381.27 523.21,391.87 536.30,397.69" fill="none" stroke="#00ff00" stroke-width="2.4" stroke-linejoin="round"/>
<polyline points="339.30,322.78 353.37,316.01 367.44,309.40 381.51,305.41 395.59,304.99 409.66,306.40 423.73,307.98 437.80,309.69 451.87,310.98 465.94,318.29 490.00,352.50 508.16,376.28 522.65,390.21 536.30,396.44" fill="none" stroke="#0000ff" stroke-width="2.4" stroke-linejoin="round"/>
<polyline points="339.30,338.87 352.95,309.98 367.44,304.41 381.51,303.99 395.59,304.99 409.66,306.20 423.73,307.82 437.80,309.31 451.87,311.89 466.36,321.29 490.00,354.46 508.16,373.16 523.21,380.65 536.30,384.80" fill="none" stroke="#ff0000" stroke-width="2.4" stroke-linejoin="round"/>
</g>
<rect x="339.3" y="277.0" width="196.99999999999994" height="152.7" fill="none" stroke="#444" stroke-width="1.3"/>
<line x1="339.30" y1="429.70" x2="339.30" y2="424.70" stroke="#111" stroke-width="1.1"/>
<line x1="343.54" y1="429.70" x2="343.54" y2="427.20" stroke="#111" stroke-width="1.0"/>
<line x1="346.01" y1="429.70" x2="346.01" y2="427.20" stroke="#111" stroke-width="1.0"/>
<line x1="347.77" y1="429.70" x2="347.77" y2="427.20" stroke="#111" stroke-width="1.0"/>
<line x1="349.14" y1="429.70" x2="349.14" y2="427.20" stroke="#111" stroke-width="1.0"/>
<line x1="350.25" y1="429.70" x2="350.25" y2="427.20" stroke="#111" stroke-width="1.0"/>
<line x1="351.19" y1="429.70" x2="351.19" y2="427.20" stroke="#111" stroke-width="1.0"/>
<line x1="352.01" y1="429.70" x2="352.01" y2="427.20" stroke="#111" stroke-width="1.0"/>
<line x1="352.73" y1="429.70" x2="352.73" y2="427.20" stroke="#111" stroke-width="1.0"/>
<line x1="353.37" y1="429.70" x2="353.37" y2="424.70" stroke="#111" stroke-width="1.1"/>
<line x1="357.61" y1="429.70" x2="357.61" y2="427.20" stroke="#111" stroke-width="1.0"/>
<line x1="360.09" y1="429.70" x2="360.09" y2="427.20" stroke="#111" stroke-width="1.0"/>
<line x1="361.84" y1="429.70" x2="361.84" y2="427.20" stroke="#111" stroke-width="1.0"/>
<line x1="363.21" y1="429.70" x2="363.21" y2="427.20" stroke="#111" stroke-width="1.0"/>
<line x1="364.32" y1="429.70" x2="364.32" y2="427.20" stroke="#111" stroke-width="1.0"/>
<line x1="365.26" y1="429.70" x2="365.26" y2="427.20" stroke="#111" stroke-width="1.0"/>
<line x1="366.08" y1="429.70" x2="366.08" y2="427.20" stroke="#111" stroke-width="1.0"/>
<line x1="366.80" y1="429.70" x2="366.80" y2="427.20" stroke="#111" stroke-width="1.0"/>
<line x1="367.44" y1="429.70" x2="367.44" y2="424.70" stroke="#111" stroke-width="1.1"/>
<line x1="371.68" y1="429.70" x2="371.68" y2="427.20" stroke="#111" stroke-width="1.0"/>
<line x1="374.16" y1="429.70" x2="374.16" y2="427.20" stroke="#111" stroke-width="1.0"/>
<line x1="375.91" y1="429.70" x2="375.91" y2="427.20" stroke="#111" stroke-width="1.0"/>
<line x1="377.28" y1="429.70" x2="377.28" y2="427.20" stroke="#111" stroke-width="1.0"/>
<line x1="378.39" y1="429.70" x2="378.39" y2="427.20" stroke="#111" stroke-width="1.0"/>
<line x1="379.33" y1="429.70" x2="379.33" y2="427.20" stroke="#111" stroke-width="1.0"/>
<line x1="380.15" y1="429.70" x2="380.15" y2="427.20" stroke="#111" stroke-width="1.0"/>
<line x1="380.87" y1="429.70" x2="380.87" y2="427.20" stroke="#111" stroke-width="1.0"/>
<line x1="381.51" y1="429.70" x2="381.51" y2="424.70" stroke="#111" stroke-width="1.1"/>
<line x1="385.75" y1="429.70" x2="385.75" y2="427.20" stroke="#111" stroke-width="1.0"/>
<line x1="388.23" y1="429.70" x2="388.23" y2="427.20" stroke="#111" stroke-width="1.0"/>
<line x1="389.99" y1="429.70" x2="389.99" y2="427.20" stroke="#111" stroke-width="1.0"/>
<line x1="391.35" y1="429.70" x2="391.35" y2="427.20" stroke="#111" stroke-width="1.0"/>
<line x1="392.46" y1="429.70" x2="392.46" y2="427.20" stroke="#111" stroke-width="1.0"/>
<line x1="393.41" y1="429.70" x2="393.41" y2="427.20" stroke="#111" stroke-width="1.0"/>
<line x1="394.22" y1="429.70" x2="394.22" y2="427.20" stroke="#111" stroke-width="1.0"/>
<line x1="394.94" y1="429.70" x2="394.94" y2="427.20" stroke="#111" stroke-width="1.0"/>
<line x1="395.59" y1="429.70" x2="395.59" y2="424.70" stroke="#111" stroke-width="1.1"/>
<line x1="399.82" y1="429.70" x2="399.82" y2="427.20" stroke="#111" stroke-width="1.0"/>
<line x1="402.30" y1="429.70" x2="402.30" y2="427.20" stroke="#111" stroke-width="1.0"/>
<line x1="404.06" y1="429.70" x2="404.06" y2="427.20" stroke="#111" stroke-width="1.0"/>
<line x1="405.42" y1="429.70" x2="405.42" y2="427.20" stroke="#111" stroke-width="1.0"/>
<line x1="406.54" y1="429.70" x2="406.54" y2="427.20" stroke="#111" stroke-width="1.0"/>
<line x1="407.48" y1="429.70" x2="407.48" y2="427.20" stroke="#111" stroke-width="1.0"/>
<line x1="408.29" y1="429.70" x2="408.29" y2="427.20" stroke="#111" stroke-width="1.0"/>
<line x1="409.01" y1="429.70" x2="409.01" y2="427.20" stroke="#111" stroke-width="1.0"/>
<line x1="409.66" y1="429.70" x2="409.66" y2="424.70" stroke="#111" stroke-width="1.1"/>
<line x1="413.89" y1="429.70" x2="413.89" y2="427.20" stroke="#111" stroke-width="1.0"/>
<line x1="416.37" y1="429.70" x2="416.37" y2="427.20" stroke="#111" stroke-width="1.0"/>
<line x1="418.13" y1="429.70" x2="418.13" y2="427.20" stroke="#111" stroke-width="1.0"/>
<line x1="419.49" y1="429.70" x2="419.49" y2="427.20" stroke="#111" stroke-width="1.0"/>
<line x1="420.61" y1="429.70" x2="420.61" y2="427.20" stroke="#111" stroke-width="1.0"/>
<line x1="421.55" y1="429.70" x2="421.55" y2="427.20" stroke="#111" stroke-width="1.0"/>
<line x1="422.36" y1="429.70" x2="422.36" y2="427.20" stroke="#111" stroke-width="1.0"/>
<line x1="423.08" y1="429.70" x2="423.08" y2="427.20" stroke="#111" stroke-width="1.0"/>
<line x1="423.73" y1="429.70" x2="423.73" y2="424.70" stroke="#111" stroke-width="1.1"/>
<line x1="427.96" y1="429.70" x2="427.96" y2="427.20" stroke="#111" stroke-width="1.0"/>
<line x1="430.44" y1="429.70" x2="430.44" y2="427.20" stroke="#111" stroke-width="1.0"/>
<line x1="432.20" y1="429.70" x2="432.20" y2="427.20" stroke="#111" stroke-width="1.0"/>
<line x1="433.56" y1="429.70" x2="433.56" y2="427.20" stroke="#111" stroke-width="1.0"/>
<line x1="434.68" y1="429.70" x2="434.68" y2="427.20" stroke="#111" stroke-width="1.0"/>
<line x1="435.62" y1="429.70" x2="435.62" y2="427.20" stroke="#111" stroke-width="1.0"/>
<line x1="436.44" y1="429.70" x2="436.44" y2="427.20" stroke="#111" stroke-width="1.0"/>
<line x1="437.16" y1="429.70" x2="437.16" y2="427.20" stroke="#111" stroke-width="1.0"/>
<line x1="437.80" y1="429.70" x2="437.80" y2="424.70" stroke="#111" stroke-width="1.1"/>
<line x1="442.04" y1="429.70" x2="442.04" y2="427.20" stroke="#111" stroke-width="1.0"/>
<line x1="444.51" y1="429.70" x2="444.51" y2="427.20" stroke="#111" stroke-width="1.0"/>
<line x1="446.27" y1="429.70" x2="446.27" y2="427.20" stroke="#111" stroke-width="1.0"/>
<line x1="447.64" y1="429.70" x2="447.64" y2="427.20" stroke="#111" stroke-width="1.0"/>
<line x1="448.75" y1="429.70" x2="448.75" y2="427.20" stroke="#111" stroke-width="1.0"/>
<line x1="449.69" y1="429.70" x2="449.69" y2="427.20" stroke="#111" stroke-width="1.0"/>
<line x1="450.51" y1="429.70" x2="450.51" y2="427.20" stroke="#111" stroke-width="1.0"/>
<line x1="451.23" y1="429.70" x2="451.23" y2="427.20" stroke="#111" stroke-width="1.0"/>
<line x1="451.87" y1="429.70" x2="451.87" y2="424.70" stroke="#111" stroke-width="1.1"/>
<line x1="456.11" y1="429.70" x2="456.11" y2="427.20" stroke="#111" stroke-width="1.0"/>
<line x1="458.59" y1="429.70" x2="458.59" y2="427.20" stroke="#111" stroke-width="1.0"/>
<line x1="460.34" y1="429.70" x2="460.34" y2="427.20" stroke="#111" stroke-width="1.0"/>
<line x1="461.71" y1="429.70" x2="461.71" y2="427.20" stroke="#111" stroke-width="1.0"/>
<line x1="462.82" y1="429.70" x2="462.82" y2="427.20" stroke="#111" stroke-width="1.0"/>
<line x1="463.76" y1="429.70" x2="463.76" y2="427.20" stroke="#111" stroke-width="1.0"/>
<line x1="464.58" y1="429.70" x2="464.58" y2="427.20" stroke="#111" stroke-width="1.0"/>
<line x1="465.30" y1="429.70" x2="465.30" y2="427.20" stroke="#111" stroke-width="1.0"/>
<line x1="465.94" y1="429.70" x2="465.94" y2="424.70" stroke="#111" stroke-width="1.1"/>
<line x1="470.18" y1="429.70" x2="470.18" y2="427.20" stroke="#111" stroke-width="1.0"/>
<line x1="472.66" y1="429.70" x2="472.66" y2="427.20" stroke="#111" stroke-width="1.0"/>
<line x1="474.41" y1="429.70" x2="474.41" y2="427.20" stroke="#111" stroke-width="1.0"/>
<line x1="475.78" y1="429.70" x2="475.78" y2="427.20" stroke="#111" stroke-width="1.0"/>
<line x1="476.89" y1="429.70" x2="476.89" y2="427.20" stroke="#111" stroke-width="1.0"/>
<line x1="477.83" y1="429.70" x2="477.83" y2="427.20" stroke="#111" stroke-width="1.0"/>
<line x1="478.65" y1="429.70" x2="478.65" y2="427.20" stroke="#111" stroke-width="1.0"/>
<line x1="479.37" y1="429.70" x2="479.37" y2="427.20" stroke="#111" stroke-width="1.0"/>
<line x1="480.01" y1="429.70" x2="480.01" y2="424.70" stroke="#111" stroke-width="1.1"/>
<line x1="484.25" y1="429.70" x2="484.25" y2="427.20" stroke="#111" stroke-width="1.0"/>
<line x1="486.73" y1="429.70" x2="486.73" y2="427.20" stroke="#111" stroke-width="1.0"/>
<line x1="488.49" y1="429.70" x2="488.49" y2="427.20" stroke="#111" stroke-width="1.0"/>
<line x1="489.85" y1="429.70" x2="489.85" y2="427.20" stroke="#111" stroke-width="1.0"/>
<line x1="490.96" y1="429.70" x2="490.96" y2="427.20" stroke="#111" stroke-width="1.0"/>
<line x1="491.91" y1="429.70" x2="491.91" y2="427.20" stroke="#111" stroke-width="1.0"/>
<line x1="492.72" y1="429.70" x2="492.72" y2="427.20" stroke="#111" stroke-width="1.0"/>
<line x1="493.44" y1="429.70" x2="493.44" y2="427.20" stroke="#111" stroke-width="1.0"/>
<line x1="494.09" y1="429.70" x2="494.09" y2="424.70" stroke="#111" stroke-width="1.1"/>
<line x1="498.32" y1="429.70" x2="498.32" y2="427.20" stroke="#111" stroke-width="1.0"/>
<line x1="500.80" y1="429.70" x2="500.80" y2="427.20" stroke="#111" stroke-width="1.0"/>
<line x1="502.56" y1="429.70" x2="502.56" y2="427.20" stroke="#111" stroke-width="1.0"/>
<line x1="503.92" y1="429.70" x2="503.92" y2="427.20" stroke="#111" stroke-width="1.0"/>
<line x1="505.04" y1="429.70" x2="505.04" y2="427.20" stroke="#111" stroke-width="1.0"/>
<line x1="505.98" y1="429.70" x2="505.98" y2="427.20" stroke="#111" stroke-width="1.0"/>
<line x1="506.79" y1="429.70" x2="506.79" y2="427.20" stroke="#111" stroke-width="1.0"/>
<line x1="507.51" y1="429.70" x2="507.51" y2="427.20" stroke="#111" stroke-width="1.0"/>
<line x1="508.16" y1="429.70" x2="508.16" y2="424.70" stroke="#111" stroke-width="1.1"/>
<line x1="512.39" y1="429.70" x2="512.39" y2="427.20" stroke="#111" stroke-width="1.0"/>
<line x1="514.87" y1="429.70" x2="514.87" y2="427.20" stroke="#111" stroke-width="1.0"/>
<line x1="516.63" y1="429.70" x2="516.63" y2="427.20" stroke="#111" stroke-width="1.0"/>
<line x1="517.99" y1="429.70" x2="517.99" y2="427.20" stroke="#111" stroke-width="1.0"/>
<line x1="519.11" y1="429.70" x2="519.11" y2="427.20" stroke="#111" stroke-width="1.0"/>
<line x1="520.05" y1="429.70" x2="520.05" y2="427.20" stroke="#111" stroke-width="1.0"/>
<line x1="520.86" y1="429.70" x2="520.86" y2="427.20" stroke="#111" stroke-width="1.0"/>
<line x1="521.58" y1="429.70" x2="521.58" y2="427.20" stroke="#111" stroke-width="1.0"/>
<line x1="522.23" y1="429.70" x2="522.23" y2="424.70" stroke="#111" stroke-width="1.1"/>
<line x1="526.46" y1="429.70" x2="526.46" y2="427.20" stroke="#111" stroke-width="1.0"/>
<line x1="528.94" y1="429.70" x2="528.94" y2="427.20" stroke="#111" stroke-width="1.0"/>
<line x1="530.70" y1="429.70" x2="530.70" y2="427.20" stroke="#111" stroke-width="1.0"/>
<line x1="532.06" y1="429.70" x2="532.06" y2="427.20" stroke="#111" stroke-width="1.0"/>
<line x1="533.18" y1="429.70" x2="533.18" y2="427.20" stroke="#111" stroke-width="1.0"/>
<line x1="534.12" y1="429.70" x2="534.12" y2="427.20" stroke="#111" stroke-width="1.0"/>
<line x1="534.94" y1="429.70" x2="534.94" y2="427.20" stroke="#111" stroke-width="1.0"/>
<line x1="535.66" y1="429.70" x2="535.66" y2="427.20" stroke="#111" stroke-width="1.0"/>
<line x1="536.30" y1="429.70" x2="536.30" y2="424.70" stroke="#111" stroke-width="1.1"/>
<line x1="339.30" y1="429.70" x2="344.30" y2="429.70" stroke="#111" stroke-width="1.1"/>
<line x1="339.30" y1="417.19" x2="341.80" y2="417.19" stroke="#111" stroke-width="1.0"/>
<line x1="339.30" y1="409.87" x2="341.80" y2="409.87" stroke="#111" stroke-width="1.0"/>
<line x1="339.30" y1="404.67" x2="341.80" y2="404.67" stroke="#111" stroke-width="1.0"/>
<line x1="339.30" y1="400.64" x2="341.80" y2="400.64" stroke="#111" stroke-width="1.0"/>
<line x1="339.30" y1="397.35" x2="341.80" y2="397.35" stroke="#111" stroke-width="1.0"/>
<line x1="339.30" y1="394.57" x2="341.80" y2="394.57" stroke="#111" stroke-width="1.0"/>
<line x1="339.30" y1="392.16" x2="341.80" y2="392.16" stroke="#111" stroke-width="1.0"/>
<line x1="339.30" y1="390.03" x2="341.80" y2="390.03" stroke="#111" stroke-width="1.0"/>
<line x1="339.30" y1="388.13" x2="344.30" y2="388.13" stroke="#111" stroke-width="1.1"/>
<line x1="339.30" y1="375.62" x2="341.80" y2="375.62" stroke="#111" stroke-width="1.0"/>
<line x1="339.30" y1="368.30" x2="341.80" y2="368.30" stroke="#111" stroke-width="1.0"/>
<line x1="339.30" y1="363.10" x2="341.80" y2="363.10" stroke="#111" stroke-width="1.0"/>
<line x1="339.30" y1="359.07" x2="341.80" y2="359.07" stroke="#111" stroke-width="1.0"/>
<line x1="339.30" y1="355.78" x2="341.80" y2="355.78" stroke="#111" stroke-width="1.0"/>
<line x1="339.30" y1="353.00" x2="341.80" y2="353.00" stroke="#111" stroke-width="1.0"/>
<line x1="339.30" y1="350.59" x2="341.80" y2="350.59" stroke="#111" stroke-width="1.0"/>
<line x1="339.30" y1="348.46" x2="341.80" y2="348.46" stroke="#111" stroke-width="1.0"/>
<line x1="339.30" y1="346.56" x2="344.30" y2="346.56" stroke="#111" stroke-width="1.1"/>
<line x1="339.30" y1="334.05" x2="341.80" y2="334.05" stroke="#111" stroke-width="1.0"/>
<line x1="339.30" y1="326.73" x2="341.80" y2="326.73" stroke="#111" stroke-width="1.0"/>
<line x1="339.30" y1="321.53" x2="341.80" y2="321.53" stroke="#111" stroke-width="1.0"/>
<line x1="339.30" y1="317.50" x2="341.80" y2="317.50" stroke="#111" stroke-width="1.0"/>
<line x1="339.30" y1="314.21" x2="341.80" y2="314.21" stroke="#111" stroke-width="1.0"/>
<line x1="339.30" y1="311.43" x2="341.80" y2="311.43" stroke="#111" stroke-width="1.0"/>
<line x1="339.30" y1="309.02" x2="341.80" y2="309.02" stroke="#111" stroke-width="1.0"/>
<line x1="339.30" y1="306.89" x2="341.80" y2="306.89" stroke="#111" stroke-width="1.0"/>
<line x1="339.30" y1="304.99" x2="344.30" y2="304.99" stroke="#111" stroke-width="1.1"/>
<line x1="339.30" y1="292.48" x2="341.80" y2="292.48" stroke="#111" stroke-width="1.0"/>
<line x1="339.30" y1="285.16" x2="341.80" y2="285.16" stroke="#111" stroke-width="1.0"/>
<line x1="339.30" y1="279.96" x2="341.80" y2="279.96" stroke="#111" stroke-width="1.0"/>
<text x="310.82" y="310.59" font-size="15.5" font-weight="normal" fill="#111" text-anchor="start" textLength="18.00" lengthAdjust="spacingAndGlyphs">10</text>
<text x="328.82" y="303.59" font-size="10" fill="#111">1</text>
<text x="310.82" y="352.16" font-size="15.5" font-weight="normal" fill="#111" text-anchor="start" textLength="18.00" lengthAdjust="spacingAndGlyphs">10</text>
<text x="328.82" y="345.16" font-size="10" fill="#111">0</text>
<text x="307.90" y="393.73" font-size="15.5" font-weight="normal" fill="#111" text-anchor="start" textLength="18.00" lengthAdjust="spacingAndGlyphs">10</text>
<text x="325.90" y="386.73" font-size="10" fill="#111">−1</text>
<text x="307.90" y="435.30" font-size="15.5" font-weight="normal" fill="#111" text-anchor="start" textLength="18.00" lengthAdjust="spacingAndGlyphs">10</text>
<text x="325.90" y="428.30" font-size="10" fill="#111">−2</text>
<text x="324.90" y="452.00" font-size="15.5" font-weight="normal" fill="#111" text-anchor="start" textLength="18.00" lengthAdjust="spacingAndGlyphs">10</text>
<text x="342.90" y="445.00" font-size="10" fill="#111">−7</text>
<text x="367.11" y="452.00" font-size="15.5" font-weight="normal" fill="#111" text-anchor="start" textLength="18.00" lengthAdjust="spacingAndGlyphs">10</text>
<text x="385.11" y="445.00" font-size="10" fill="#111">−4</text>
<text x="409.33" y="452.00" font-size="15.5" font-weight="normal" fill="#111" text-anchor="start" textLength="18.00" lengthAdjust="spacingAndGlyphs">10</text>
<text x="427.33" y="445.00" font-size="10" fill="#111">−1</text>
<text x="454.46" y="452.00" font-size="15.5" font-weight="normal" fill="#111" text-anchor="start" textLength="18.00" lengthAdjust="spacingAndGlyphs">10</text>
<text x="472.46" y="445.00" font-size="10" fill="#111">2</text>
<text x="496.68" y="452.00" font-size="15.5" font-weight="normal" fill="#111" text-anchor="start" textLength="18.00" lengthAdjust="spacingAndGlyphs">10</text>
<text x="514.68" y="445.00" font-size="10" fill="#111">5</text>
<text x="346.50" y="259.00" font-size="14.5" font-weight="normal" fill="#111" text-anchor="start" textLength="93.20" lengthAdjust="spacingAndGlyphs">TCAD simulation</text>
<text x="346.4" y="271.4" font-size="14.5" fill="#111" textLength="176" lengthAdjust="spacingAndGlyphs">λ (nm): 480 (<tspan fill="#0000ff">B</tspan>) 540 (<tspan fill="#00dd00">G</tspan>) 610 (<tspan fill="#ff0000">R</tspan>)</text>
<text x="346.00" y="290.90" font-size="14.5" font-weight="normal" fill="#111" text-anchor="start" textLength="9.00" lengthAdjust="spacingAndGlyphs">V</text>
<text x="354.40" y="294.90" font-size="10.5" font-weight="normal" fill="#111" text-anchor="start" textLength="12.00" lengthAdjust="spacingAndGlyphs">CE</text>
<text x="369.60" y="290.90" font-size="14.5" font-weight="normal" fill="#111" text-anchor="start" textLength="29.50" lengthAdjust="spacingAndGlyphs">= 1 V</text>
<text x="281.90" y="254.30" font-size="17.5" font-weight="bold" fill="#111" text-anchor="start" textLength="21.80" lengthAdjust="spacingAndGlyphs">(d)</text>
<text x="300.90" y="418.20" font-size="18.5" font-weight="bold" fill="#111" text-anchor="start" textLength="130.60" lengthAdjust="spacingAndGlyphs" transform="rotate(-90 300.90 418.20)">Responsivity (A/W)</text>
<text x="379.6" y="472.4" font-size="18.5" font-weight="bold" fill="#111" textLength="117" lengthAdjust="spacingAndGlyphs">Intensity (W/cm<tspan dy="-6" font-size="10.5">2</tspan><tspan dy="6">)</tspan></text>
<text x="470.00" y="318.00" font-size="16" font-weight="bold" fill="#0000ff" text-anchor="start" textLength="29.00" lengthAdjust="spacingAndGlyphs">B-PT</text>
<text x="490.00" y="349.60" font-size="16" font-weight="bold" fill="#ff0000" text-anchor="start" textLength="28.00" lengthAdjust="spacingAndGlyphs">R-PT</text>
<text x="465.00" y="379.00" font-size="16" font-weight="bold" fill="#00ff00" text-anchor="start" textLength="29.00" lengthAdjust="spacingAndGlyphs">G-PT</text>
</svg>
</body></html>
